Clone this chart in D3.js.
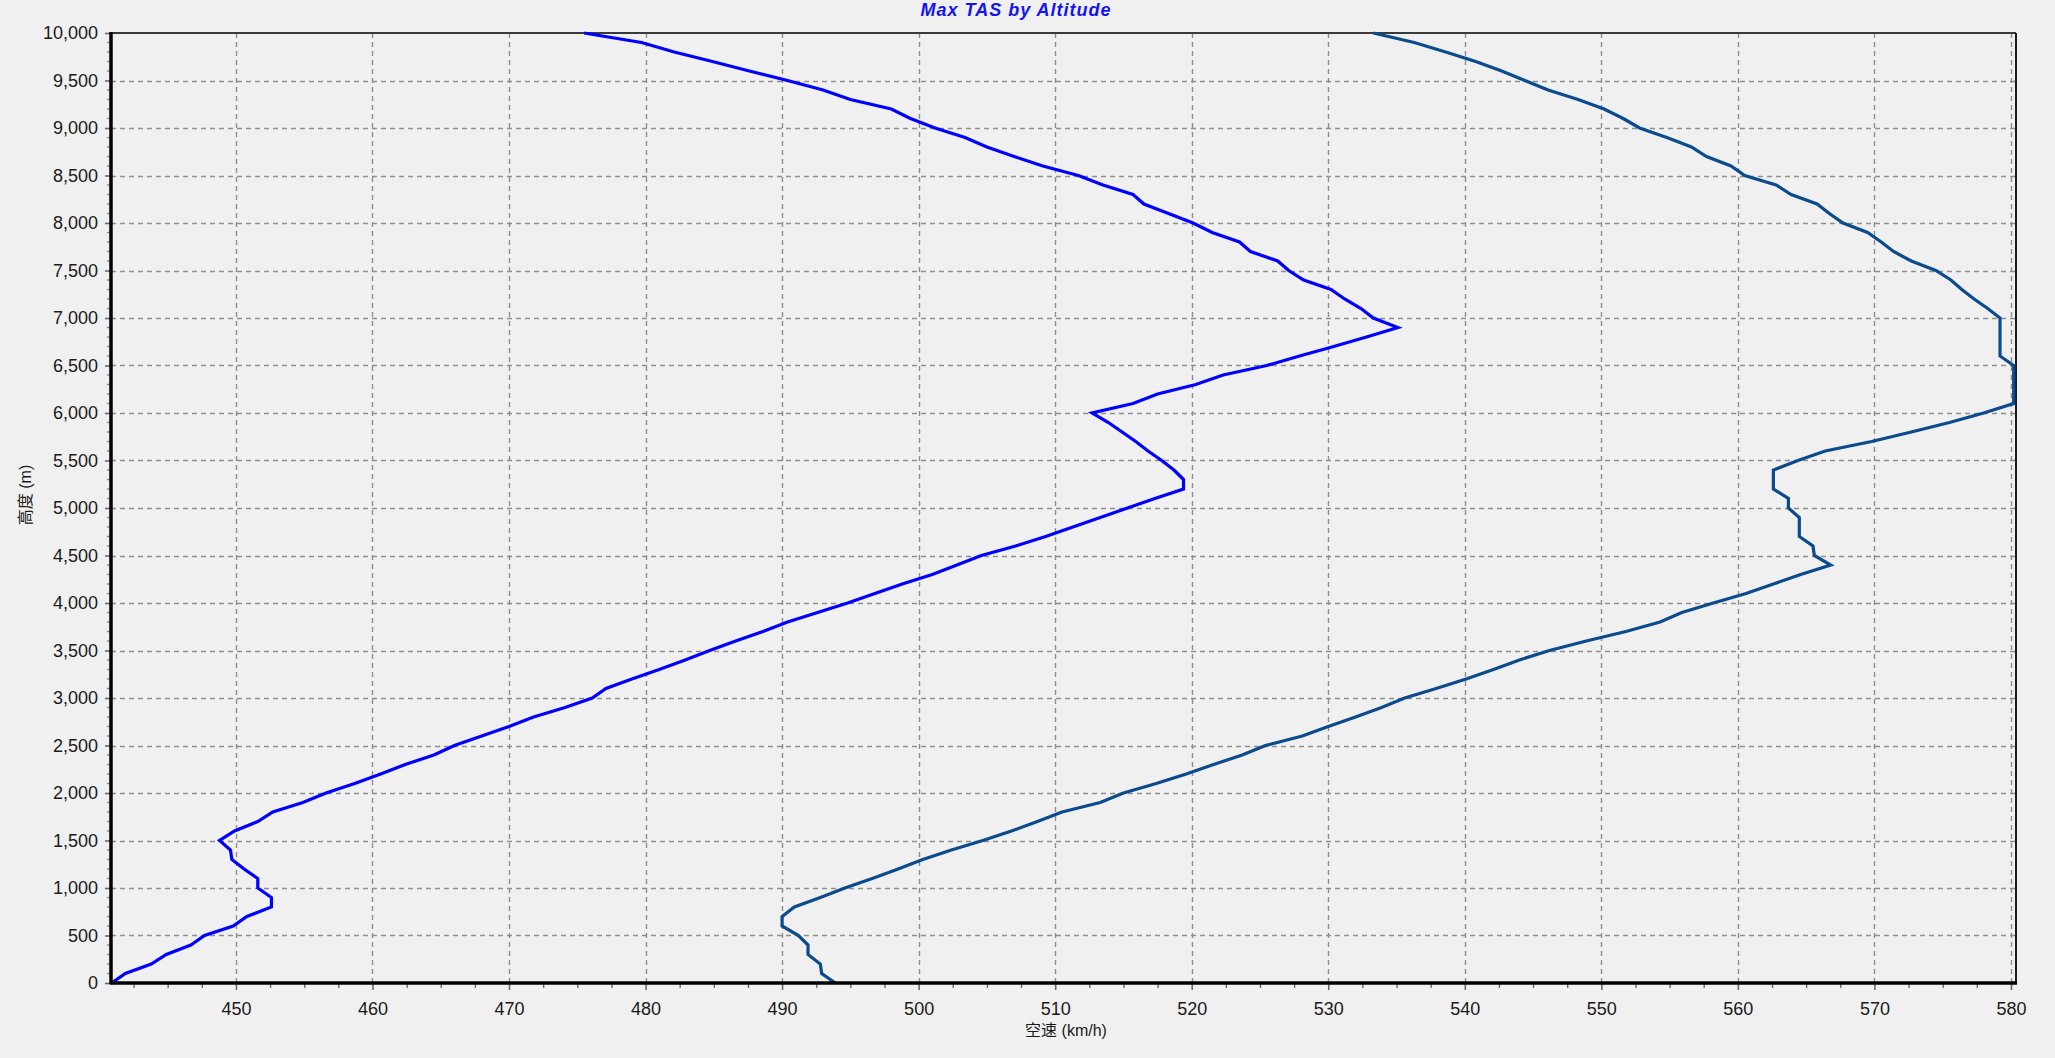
<!DOCTYPE html>
<html>
<head>
<meta charset="utf-8">
<script src="https://cdn.jsdelivr.net/npm/d3@7"></script>
<style>
  html, body { margin: 0; padding: 0; background: #f0f0f0; }
  svg { display: block; }
  text { font-family: "Liberation Sans", Arial, sans-serif; }
</style>
</head>
<body>
<svg id="chart" width="2055" height="1058"></svg>
<script>
// ---------------- DATA ----------------
const title = "Max TAS by Altitude";
const xTitle = "空速 (km/h)";
const yTitle = "高度 (m)";

const altitudes = [
  0, 100, 200, 300, 400, 500, 600, 700, 800, 900,
  1000, 1100, 1200, 1300, 1400, 1500, 1600, 1700, 1800, 1900,
  2000, 2100, 2200, 2300, 2400, 2500, 2600, 2700, 2800, 2900,
  3000, 3100, 3200, 3300, 3400, 3500, 3600, 3700, 3800, 3900,
  4000, 4100, 4200, 4300, 4400, 4500, 4600, 4700, 4800, 4900,
  5000, 5100, 5200, 5300, 5400, 5500, 5600, 5700, 5800, 5900,
  6000, 6100, 6200, 6300, 6400, 6500, 6600, 6700, 6800, 6900,
  7000, 7100, 7200, 7300, 7400, 7500, 7600, 7700, 7800, 7900,
  8000, 8100, 8200, 8300, 8400, 8500, 8600, 8700, 8800, 8900,
  9000, 9100, 9200, 9300, 9400, 9500, 9600, 9700, 9800, 9900,
  10000
];

const seriesA = [
  440.9, 441.9, 443.8, 444.9, 446.7, 447.7, 449.8, 450.8, 452.6, 452.6,
  451.6, 451.6, 450.6, 449.7, 449.6, 448.8, 449.9, 451.6, 452.7, 454.9,
  456.6, 458.7, 460.6, 462.4, 464.5, 466.0, 468.0, 470.0, 471.8, 474.1,
  476.1, 477.1, 479.0, 481.0, 482.9, 484.7, 486.6, 488.6, 490.4, 492.6,
  494.8, 496.8, 498.8, 501.0, 502.8, 504.6, 507.1, 509.3, 511.3, 513.3,
  515.3, 517.3, 519.4, 519.4, 518.7, 517.8, 516.8, 515.9, 514.9, 513.9,
  512.7, 515.7, 517.5, 520.3, 522.3, 525.5, 527.9, 530.4, 532.8, 535.1,
  533.3, 532.4, 531.2, 530.2, 528.2, 527.1, 526.3, 524.3, 523.5, 521.5,
  520.1, 518.3, 516.5, 515.7, 513.5, 511.7, 509.1, 507.0, 505.0, 503.4,
  501.2, 499.4, 498.0, 495.0, 493.0, 490.4, 487.6, 484.9, 482.1, 479.7,
  475.5
];

const seriesB = [
  493.9, 492.9, 492.8, 491.9, 491.9, 491.2, 490.0, 490.0, 490.9, 492.8,
  494.6, 496.6, 498.5, 500.3, 502.4, 504.7, 506.8, 508.7, 510.5, 513.3,
  515.0, 517.4, 519.6, 521.6, 523.7, 525.4, 528.1, 530.0, 532.0, 533.9,
  535.6, 537.9, 540.1, 542.1, 544.0, 546.2, 548.9, 551.8, 554.3, 555.9,
  558.2, 560.6, 562.6, 564.6, 566.8, 565.6, 565.5, 564.5, 564.5, 564.5,
  563.7, 563.7, 562.6, 562.6, 562.6, 564.4, 566.4, 569.8, 572.7, 575.5,
  578.0, 580.2, 580.2, 580.2, 580.2, 580.2, 579.2, 579.2, 579.2, 579.2,
  579.2, 578.3, 577.3, 576.4, 575.6, 574.5, 572.7, 571.4, 570.5, 569.5,
  567.7, 566.7, 565.8, 563.9, 562.8, 560.5, 559.5, 557.7, 556.6, 554.8,
  552.8, 551.6, 550.2, 548.3, 546.1, 544.4, 542.7, 540.8, 538.6, 536.3,
  533.3
];

const xTicks = [450, 460, 470, 480, 490, 500, 510, 520, 530, 540, 550, 560, 570, 580];
const xMinorTicks = [442.5, 445, 447.5, 452.5, 455, 457.5, 462.5, 465, 467.5, 472.5, 475, 477.5,
  482.5, 485, 487.5, 492.5, 495, 497.5, 502.5, 505, 507.5, 512.5, 515, 517.5, 522.5, 525, 527.5,
  532.5, 535, 537.5, 542.5, 545, 547.5, 552.5, 555, 557.5, 562.5, 565, 567.5, 572.5, 575, 577.5];
const yTicks = [0, 500, 1000, 1500, 2000, 2500, 3000, 3500, 4000, 4500, 5000,
  5500, 6000, 6500, 7000, 7500, 8000, 8500, 9000, 9500, 10000];
const xDomain = [440.85, 580.37];
const yDomain = [0, 10000];

// ---------------- LAYOUT ----------------
const plot = { left: 111, right: 2016, top: 33, bottom: 983 };
const svg = d3.select("#chart");

const x = d3.scaleLinear().domain(xDomain).range([plot.left, plot.right]);
const y = d3.scaleLinear().domain(yDomain).range([plot.bottom, plot.top]);

// background
svg.append("rect").attr("x", 0).attr("y", 0).attr("width", 2055).attr("height", 1058).attr("fill", "#f0f0f0");

// grid
const grid = svg.append("g").attr("stroke", "#8e8e8e").attr("stroke-width", 1.4).attr("stroke-dasharray", "5,4");
grid.selectAll("line.v").data(xTicks).join("line")
  .attr("x1", d => Math.round(x(d)) + 0.5).attr("x2", d => Math.round(x(d)) + 0.5)
  .attr("y1", plot.top).attr("y2", plot.bottom);
grid.selectAll("line.h").data(yTicks.filter(d => d > 0 && d < 10000)).join("line")
  .attr("x1", plot.left).attr("x2", plot.right)
  .attr("y1", d => Math.round(y(d)) + 0.5).attr("y2", d => Math.round(y(d)) + 0.5);

// minor y ticks (every 100 m) on left of axis
const yMinor = altitudes.filter(a => a % 500 !== 0);
svg.append("g").selectAll("line").data(yMinor).join("line")
  .attr("x1", plot.left - 4).attr("x2", plot.left)
  .attr("y1", d => y(d)).attr("y2", d => y(d))
  .attr("stroke", "#8a8a8a").attr("stroke-width", 1.4);

// axes
const fmt = d3.format(",");
const xAxis = d3.axisBottom(x).tickValues(xTicks).tickSize(7).tickPadding(12).tickFormat(d => d);
const gx = svg.append("g").attr("transform", `translate(0,${plot.bottom})`).call(xAxis);
gx.select(".domain").remove();
gx.selectAll(".tick line").attr("stroke", "#6a6a6a").attr("stroke-width", 1.6);
gx.selectAll(".tick text").attr("fill", "#1a1a1a").style("font-size", "18px");

const xMinorAxis = d3.axisBottom(x).tickValues(xMinorTicks).tickSize(5).tickFormat("");
const gxm = svg.append("g").attr("transform", `translate(0,${plot.bottom})`).call(xMinorAxis);
gxm.select(".domain").remove();
gxm.selectAll(".tick line").attr("stroke", "#6a6a6a").attr("stroke-width", 1.4);

const yAxis = d3.axisLeft(y).tickValues(yTicks).tickSize(6).tickPadding(7).tickFormat(fmt);
const gy = svg.append("g").attr("transform", `translate(${plot.left},0)`).call(yAxis);
gy.select(".domain").remove();
gy.selectAll(".tick line").attr("stroke", "#6a6a6a").attr("stroke-width", 1.6);
gy.selectAll(".tick text").attr("fill", "#1a1a1a").style("font-size", "18px");

// plot frame
svg.append("line").attr("x1", plot.left).attr("x2", plot.right).attr("y1", plot.top).attr("y2", plot.top)
  .attr("stroke", "#3a3a3a").attr("stroke-width", 2);
svg.append("line").attr("x1", plot.right).attr("x2", plot.right).attr("y1", plot.top).attr("y2", plot.bottom)
  .attr("stroke", "#1a1a1a").attr("stroke-width", 2);

// series
const line = d3.line().x(d => x(d[0])).y(d => y(d[1]));
svg.append("path").datum(seriesA.map((v, i) => [v, altitudes[i]]))
  .attr("d", line).attr("fill", "none").attr("stroke", "#0000ff").attr("stroke-width", 3.2)
  .attr("stroke-linejoin", "miter");
svg.append("path").datum(seriesB.map((v, i) => [v, altitudes[i]]))
  .attr("d", line).attr("fill", "none").attr("stroke", "#0b4a8c").attr("stroke-width", 3.2)
  .attr("stroke-linejoin", "miter");

// thick left/bottom axes
svg.append("line").attr("x1", plot.left).attr("x2", plot.left).attr("y1", plot.top - 1).attr("y2", plot.bottom + 1.5)
  .attr("stroke", "#000").attr("stroke-width", 3.5);
svg.append("line").attr("x1", plot.left).attr("x2", plot.right + 1).attr("y1", plot.bottom).attr("y2", plot.bottom)
  .attr("stroke", "#000").attr("stroke-width", 3.5);

// titles
svg.append("text").attr("x", 1016).attr("y", 16).attr("text-anchor", "middle")
  .style("font-size", "18px").style("font-weight", "bold").style("font-style", "italic")
  .style("letter-spacing", "1px").attr("fill", "#1414ee").text(title);

svg.append("text").attr("x", 1066).attr("y", 1036).attr("text-anchor", "middle")
  .style("font-size", "16px").style("font-family", "'Liberation Sans', 'Noto Sans CJK SC', sans-serif")
  .attr("fill", "#1a1a1a").text(xTitle);

svg.append("text").attr("transform", "translate(31,495) rotate(-90)").attr("text-anchor", "middle")
  .style("font-size", "16px").style("font-family", "'Liberation Sans', 'Noto Sans CJK SC', sans-serif")
  .attr("fill", "#1a1a1a").text(yTitle);
</script>
</body>
</html>
